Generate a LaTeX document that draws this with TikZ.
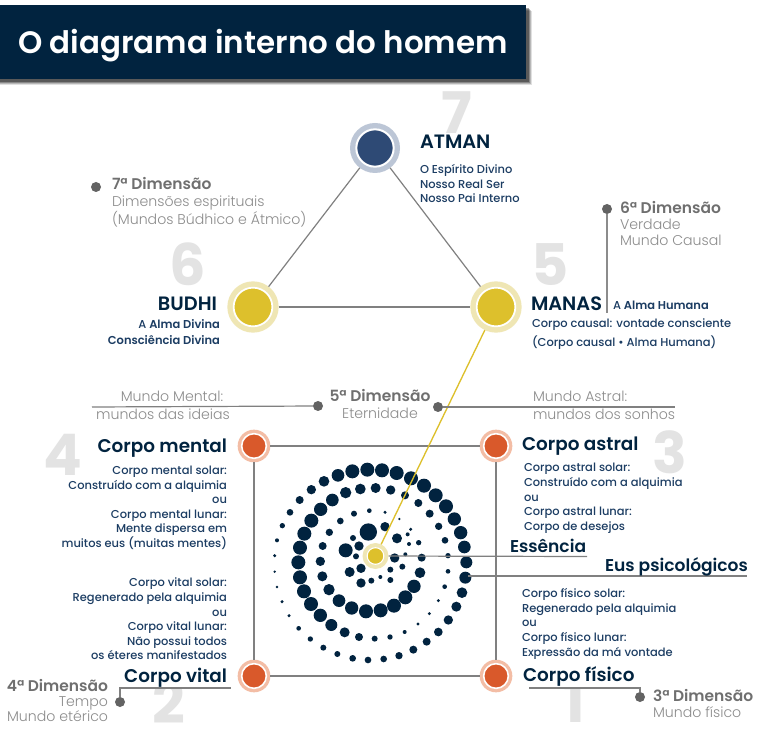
\documentclass[tikz,border=0pt]{standalone}
\usepackage{fontspec}
\setmainfont{Poppins}
\newfontfamily\fsemi{Poppins SemiBold}
\newfontfamily\fmed{Poppins Medium}
\newfontfamily\flight{Poppins Light}
\definecolor{navy}{HTML}{01233F}
\definecolor{subnavy}{HTML}{1C3D63}
\definecolor{grayh}{HTML}{6F6F6F}
\definecolor{grayl}{HTML}{8C8C8C}
\definecolor{bignum}{HTML}{E3E3E3}
\definecolor{conn}{HTML}{808080}
\definecolor{dotgray}{HTML}{636363}
\definecolor{ringblue}{HTML}{BCC6D6}
\definecolor{coreblue}{HTML}{2E4A75}
\definecolor{ringyellow}{HTML}{EFE6B4}
\definecolor{coreyellow}{HTML}{DDC02C}
\definecolor{ringorange}{HTML}{F3BDA5}
\definecolor{coreorange}{HTML}{D9592B}
\tikzset{
  disc/.style={circle,inner sep=0pt,outer sep=0pt},
  ringA/.style={disc,fill=ringblue,minimum size=37.5pt},
  coreA/.style={disc,fill=coreblue,draw=white,line width=1.5pt,minimum size=28pt},
  ringY/.style={disc,fill=ringyellow,minimum size=38.5pt},
  coreY/.style={disc,fill=coreyellow,draw=white,line width=1.3pt,minimum size=29pt},
  ringO/.style={disc,fill=ringorange,minimum size=24.5pt},
  coreO/.style={disc,fill=coreorange,draw=white,line width=1.2pt,minimum size=18.5pt},
  ringE/.style={disc,fill=ringyellow,minimum size=19.5pt},
  coreE/.style={disc,fill=coreyellow,draw=white,line width=.8pt,minimum size=12.5pt},
  gdot/.style={disc,fill=dotgray,minimum size=7.5pt},
  link/.style={draw=conn,line width=1.2pt},
  thin link/.style={draw=conn,line width=.9pt},
  txt/.style={inner sep=0pt,outer sep=0pt},
  head/.style={txt,text=navy,font=\fsemi\fontsize{13.8}{15}\selectfont},
  headcap/.style={txt,text=navy,font=\fsemi\fontsize{14.5}{15}\selectfont},
  headsm/.style={txt,text=navy,font=\fsemi\fontsize{12.8}{15}\selectfont},
  sub/.style={txt,text=subnavy,font=\fmed\fontsize{8.6}{10.95}\selectfont},
  dimh/.style={txt,text=grayh,font=\fsemi\fontsize{11.6}{13}\selectfont},
  diml/.style={txt,text=grayl,font=\flight\fontsize{10.6}{11.6}\selectfont},
  num/.style={txt,text=bignum,font=\bfseries\fontsize{43}{43}\selectfont},
}
\begin{document}
\begin{tikzpicture}[x=.75pt,y=-.75pt]
\useasboundingbox (0,0) rectangle (768,734);
\fill[white] (0,0) rectangle (768,734);
% title
\foreach \o/\g in {6/.12,5/.18,4/.25,3/.35}{
  \fill[black,opacity=\g] (0,{5+\o}) rectangle ({526+\o},{79+\o});
}
\fill[navy] (0,5) rectangle (526,79);
\node[txt,anchor=west,text=white,font=\fsemi\fontsize{23.2}{28}\selectfont] (title) at (18,46) {O diagrama interno do homem};
% big numerals
\node[num] (n7) at (457,113) {7};
\node[num] (n6) at (188,264) {6};
\node[num] (n5) at (550,265) {5};
\node[num] (n4) at (63,455) {4};
\node[num] (n3) at (670,452) {3};
\begin{scope}
  \clip (100,689) rectangle (650,734);
  \node[num] (n2) at (169,702) {2};
  \node[num] (n1) at (574,702) {1};
\end{scope}
% dots
\foreach \x/\y/\r in {44/317/5,51/271/6,67/227/8,90/187/10,119/150/12,154/119/14,192/94/16,234/76/19,277/64/21,322/59/21,366/61/21,410/69/21,453/85/21,492/107/21,527/136/21,558/169/21,583/207/20,602/248/20,613/291/19,619/337/18,616/383/18,606/428/16,589/470/15,565/510/14,535/546/13,500/575/12,460/599/12,417/617/11,371/627/10,324/630/10,278/625/10,232/612/9,190/593/9,151/567/8,116/535/7,87/497/5,66/455/5,51/411/4,44/365/4,
375/187/5,328/182/7,282/191/9,241/213/10,208/247/11,188/288/12,181/334/14,187/379/15,207/419/17,237/452/19,275/474/20,318/484/21,362/481/21,402/467/21,436/442/21,462/409/20,480/368/16,485/323/12,476/278/8,418/207/4,
435/136/12,392/120/14,347/114/15,301/117/16,257/128/17,217/150/19,182/178/20,154/212/21,133/251/21,120/293/21,115/337/21,120/382/21,132/424/21,153/462/21,181/496/20,214/525/18,254/547/15,297/561/12,344/566/9,390/561/8,434/546/6,474/522/5,508/491/5,535/452/5,554/410/7,564/364/7,564/317/8,555/271/10,536/229/11,509/191/12,475/159/12,
325/246/26,257/301/21,375/230/14,411/265/15,297/288/14,279/264/9,288/319/9,303/355/14,269/366/15,303/399/14,334/392/9,361/381/6,391/390/9,391/359/9,427/350/9,404/324/14,436/313/6,447/282/6,443/253/6,452/238/5}{
  \fill[navy] ({260+\x/3},{450+\y/3}) circle [radius=\r*.25pt];
}
% nodes
\node[ringA] (atman) at (375,148) {};
\node[coreA] (atmanc) at (atman) {};
\node[ringY] (budhi) at (253,307) {};
\node[coreY] (budhic) at (budhi) {};
\node[ringY] (manas) at (496,307) {};
\node[coreY] (manasc) at (manas) {};
\node[ringO] (mental) at (254,446) {};
\node[coreO] (mentalc) at (mental) {};
\node[ringO] (astral) at (496,446) {};
\node[coreO] (astralc) at (astral) {};
\node[ringO] (vital) at (254,676) {};
\node[coreO] (vitalc) at (vital) {};
\node[ringO] (fisico) at (496,676) {};
\node[coreO] (fisicoc) at (fisico) {};
\node[ringE] (ess) at (375.5,556) {};
\node[coreE] (essc) at (ess) {};
% gray dots
\node[gdot] (d7) at (96,187) {};
\node[gdot] (d6) at (607,209) {};
\node[gdot] (d5l) at (318,406) {};
\node[gdot] (d5r) at (438,407) {};
\node[gdot] (d4) at (120,702) {};
\node[gdot] (d3) at (640,697) {};
% free ends
\coordinate (e6) at (607,313);
\coordinate (e5l) at (92,407);
\coordinate (e5r) at (675,407);
\coordinate (e4) at (231,688);
\coordinate (e3) at (529,688);
\coordinate (eess) at (587,556.5);
\coordinate (eeus) at (747,576);
\coordinate (seus) at (468,576);
% connectors
\draw[thin link] (atman) -- (budhi);
\draw[thin link] (atman) -- (manas);
\draw[thin link] (budhi) -- (manas);
\draw[link] (mental) -- (astral);
\draw[link] (mental) -- (vital);
\draw[link] (astral) -- (fisico);
\draw[link] (vital) -- (fisico);
\draw[draw=coreyellow,line width=1pt] (manas) -- (ess);
\draw[thin link,draw=grayl,line width=1.2pt] (d6) -- (e6);
\draw[thin link] (d5l) -- (e5l);
\draw[thin link] (d5r) -- (e5r);
\draw[thin link] (d4) |- (e4);
\draw[thin link] (d3) |- (e3);
\draw[thin link] (ess) -- (eess);
\draw[thin link] (seus) -- (eeus);
% labels
\node[headcap,anchor=west] (tatman) at (420,142) {ATMAN};
\node[sub,anchor=north west,align=left] (satman) at (420,164.5) {O Espírito Divino\\Nosso Real Ser\\Nosso Pai Interno};
\node[headcap,anchor=east] (tbudhi) at (217,304) {BUDHI};
\node[sub,anchor=north east,align=right,font=\fmed\fontsize{8.6}{12}\selectfont] (sbudhi) at (220,319.5) {A {\fsemi Alma Divina}\\{\fsemi Consciência Divina}};
\node[headcap,anchor=west] (tmanas) at (531,304) {MANAS};
\node[sub,anchor=west] (amanas) at (613,305) {A {\fsemi Alma Humana}};
\node[sub,anchor=north west,align=left,font=\fmed\fontsize{8.6}{14.3}\selectfont] (smanas) at (532,319) {Corpo causal: vontade consciente\\(Corpo causal • Alma Humana)};
\node[dimh,anchor=west] (h7) at (112,184) {7ª Dimensão};
\node[diml,anchor=north west,align=left] (l7) at (112,195.5) {Dimensões espirituais\\(Mundos Búdhico e Átmico)};
\node[dimh,anchor=west] (h6) at (620,208) {6ª Dimensão};
\node[diml,anchor=north west,align=left] (l6) at (620,219.5) {Verdade\\Mundo Causal};
\node[dimh,anchor=center] (h5) at (380,396) {5ª Dimensão};
\node[diml,anchor=center] (l5) at (380,413) {Eternidade};
\node[diml,anchor=center] (mm1) at (172,396) {Mundo Mental:};
\node[diml,anchor=center] (mm2) at (163,414) {mundos das ideias};
\node[diml,anchor=west] (ma1) at (533,396) {Mundo Astral:};
\node[diml,anchor=west] (ma2) at (533,414) {mundos dos sonhos};
\node[head,anchor=east] (tmental) at (227,448) {Corpo mental};
\node[sub,anchor=north east,align=right] (smental) at (227,466) {Corpo mental solar:\\Construído com a alquimia\\ou\\Corpo mental lunar:\\Mente dispersa em\\muitos eus (muitas mentes)};
\node[sub,anchor=north east,align=right] (svital) at (227,578) {Corpo vital solar:\\Regenerado pela alquimia\\ou\\Corpo vital lunar:\\Não possui todos\\os éteres manifestados};
\node[head,anchor=east] (tvital) at (227,678) {Corpo vital};
\node[dimh,anchor=east] (h4) at (108,686) {4ª Dimensão};
\node[diml,anchor=north east,align=right] (l4) at (108,696.5) {Tempo\\Mundo etérico};
\node[head,anchor=west] (tastral) at (522,446) {Corpo astral};
\node[sub,anchor=north west,align=left] (sastral) at (524,463.5) {Corpo astral solar:\\Construído com a alquimia\\ou\\Corpo astral lunar:\\Corpo de desejos};
\node[headsm,anchor=west] (tess) at (510,546) {Essência};
\node[headsm,anchor=west] (teus) at (605,566.5) {Eus psicológicos};
\node[sub,anchor=north west,align=left] (sfisico) at (522,588.5) {Corpo físico solar:\\Regenerado pela alquimia\\ou\\Corpo físico lunar:\\Expressão da má vontade};
\node[head,anchor=west] (tfisico) at (523,676) {Corpo físico};
\node[dimh,anchor=west] (h3) at (653,696) {3ª Dimensão};
\node[diml,anchor=west] (l3) at (653,712) {Mundo físico};
\end{tikzpicture}
\end{document}
